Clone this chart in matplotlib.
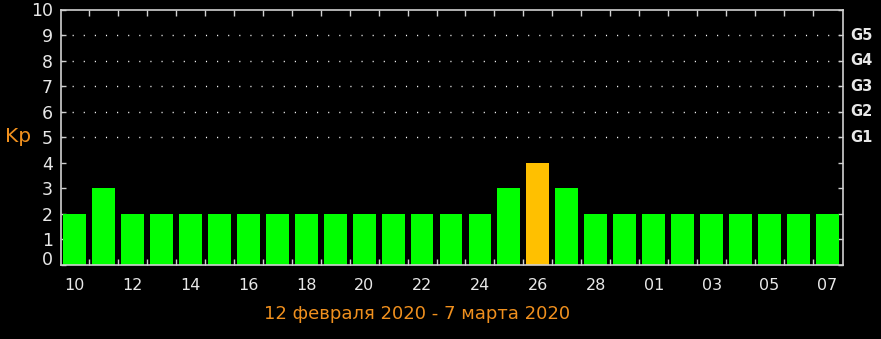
import matplotlib
matplotlib.use("Agg")
import matplotlib.pyplot as plt
from matplotlib.transforms import blended_transform_factory

days = ["10","11","12","13","14","15","16","17","18","19","20","21","22","23","24",
        "25","26","27","28","29","01","02","03","04","05","06","07"]
kp = [2,3,2,2,2,2,2,2,2,2,2,2,2,2,2,3,4,3,2,2,2,2,2,2,2,2,2]
storm_levels = [5,6,7,8,9]
storm_labels = ["G1","G2","G3","G4","G5"]
y_ticks = list(range(0, 11))
title = "12 февраля 2020 - 7 марта 2020"

GREEN = "#00FF00"
ORANGE_BAR = "#FFC000"
TEXT_ORANGE = "#F0901E"
AXCOL = "#D0D0D0"
LABCOL = "#E8E8E8"

W, H = 881, 339
fig = plt.figure(figsize=(W/100, H/100), dpi=100, facecolor="black")
ax = fig.add_axes([61/W, (H-265)/H, (843-61)/W, (265-9.5)/H], facecolor="black")

colors = [ORANGE_BAR if v >= 4 else GREEN for v in kp]
x = list(range(len(kp)))
ax.bar(x, kp, width=0.79, color=colors, zorder=2)

ax.set_xlim(-0.466, len(kp) - 1 + 0.535)
ax.set_ylim(0, 10)

for s in ax.spines.values():
    s.set_color(AXCOL)
    s.set_linewidth(1.2)
    s.set_zorder(3)

# dotted grid at storm levels
for lv in storm_levels:
    ax.axhline(lv, color="white", lw=1.0, linestyle=(0, (0.8, 7.2)), zorder=1)

# x ticks: labels every 2 days at bar centres, marks at slot boundaries
ax.set_xticks(x[::2])
ax.set_xticklabels(days[::2], color=LABCOL, fontsize=11.5)
ax.tick_params(axis="x", which="major", length=0, pad=9)
ax.set_xticks([i + 0.5 for i in x[:-1]], minor=True)
ax.tick_params(axis="x", which="minor", direction="in", length=4.5, width=1,
               color=AXCOL, top=True, bottom=True)

# y ticks
ax.set_yticks(y_ticks)
ax.set_yticklabels([str(v) for v in y_ticks], color=LABCOL, fontsize=12.5)
ax.tick_params(axis="y", which="major", direction="in", length=3.5, width=1,
               color=AXCOL, left=True, right=True, pad=6)
for lab in ax.get_yticklabels():
    if lab.get_text() == "0":
        lab.set_verticalalignment("baseline")

# storm labels on the right
tr = blended_transform_factory(fig.transFigure, ax.transData)
for lv, lab in zip(storm_levels, storm_labels):
    ax.text(850/W, lv, lab, transform=tr, color=LABCOL, fontsize=10.5,
            fontweight="bold", ha="left", va="center", clip_on=False)

fig.text(5/W, 1 - 136/H, "Kp", color=TEXT_ORANGE, fontsize=14.5, ha="left", va="center")
fig.text(417/W, 1 - 314/H, title, color=TEXT_ORANGE, fontsize=13, ha="center", va="center")

fig.savefig("out.png", dpi=100, facecolor="black")
